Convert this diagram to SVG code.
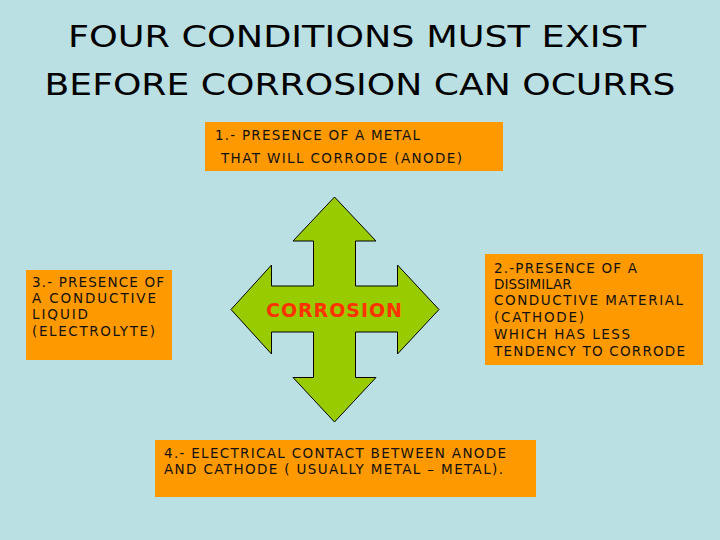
<svg xmlns="http://www.w3.org/2000/svg" width="720" height="540" viewBox="0 0 720 540">
<style>
.box{fill:#FF9900}
.t{font-family:"DejaVu Sans",Verdana,sans-serif;font-size:13.5px;fill:#111}
.title{font-family:"DejaVu Sans",Verdana,sans-serif;font-size:30px;fill:#000;text-anchor:middle}
.arrow{fill:#99CC00;stroke:#000;stroke-width:1}
.lbl{font-family:"DejaVu Sans",Verdana,sans-serif;font-size:19px;font-weight:bold;fill:#FF3300}
</style>
<rect width="720" height="540" fill="#BBE0E3"/>
<g id="title">
<text class="title" x="357" y="47" textLength="578" lengthAdjust="spacingAndGlyphs">FOUR CONDITIONS MUST EXIST</text>
<text class="title" x="360" y="95" textLength="631" lengthAdjust="spacingAndGlyphs">BEFORE CORROSION CAN OCURRS</text>
</g>
<g id="connectors">
<g id="corrosion">
<path class="arrow" d="M334.5,197 L376,241 L355.5,241 L355.5,286 L397.5,286 L397.5,265 L439,309.5 L397.5,354 L397.5,332 L355.5,332 L355.5,377.5 L376,377.5 L334.5,422 L293,377.5 L313.5,377.5 L313.5,332 L271.5,332 L271.5,354 L231,309.5 L271.5,265 L271.5,286 L313.5,286 L313.5,241 L293,241 Z"/>
<text class="lbl" x="266" y="317" textLength="136" lengthAdjust="spacing">CORROSION</text>
</g>
</g>
<g id="cond1">
<rect class="box" x="205" y="122" width="298" height="49"/>
<text class="t" x="215" y="140" textLength="205" lengthAdjust="spacing">1.- PRESENCE OF A METAL</text>
<text class="t" x="221" y="163" textLength="241" lengthAdjust="spacing">THAT WILL CORRODE (ANODE)</text>
</g>
<g id="cond3">
<rect class="box" x="26" y="270" width="146" height="90"/>
<text class="t" x="32" y="287" textLength="132" lengthAdjust="spacing">3.- PRESENCE OF</text>
<text class="t" x="32" y="303" textLength="124" lengthAdjust="spacing">A CONDUCTIVE</text>
<text class="t" x="32" y="319" textLength="56" lengthAdjust="spacing">LIQUID</text>
<text class="t" x="32" y="336" textLength="123" lengthAdjust="spacing">(ELECTROLYTE)</text>
</g>
<g id="cond2">
<rect class="box" x="485" y="254" width="218" height="111"/>
<text class="t" x="494" y="273" textLength="143" lengthAdjust="spacing">2.-PRESENCE OF A</text>
<text class="t" x="494" y="289">DISSIMILAR</text>
<text class="t" x="494" y="305" textLength="189" lengthAdjust="spacing">CONDUCTIVE MATERIAL</text>
<text class="t" x="494" y="322" textLength="90" lengthAdjust="spacing">(CATHODE)</text>
<text class="t" x="494" y="339" textLength="136" lengthAdjust="spacing">WHICH HAS LESS</text>
<text class="t" x="494" y="356" textLength="191" lengthAdjust="spacing">TENDENCY TO CORRODE</text>
</g>
<g id="cond4">
<rect class="box" x="155" y="440" width="381" height="57"/>
<text class="t" x="164" y="458" textLength="342" lengthAdjust="spacing">4.- ELECTRICAL CONTACT BETWEEN ANODE</text>
<text class="t" x="164" y="474" textLength="339" lengthAdjust="spacing">AND CATHODE ( USUALLY METAL – METAL).</text>
</g>
</svg>
